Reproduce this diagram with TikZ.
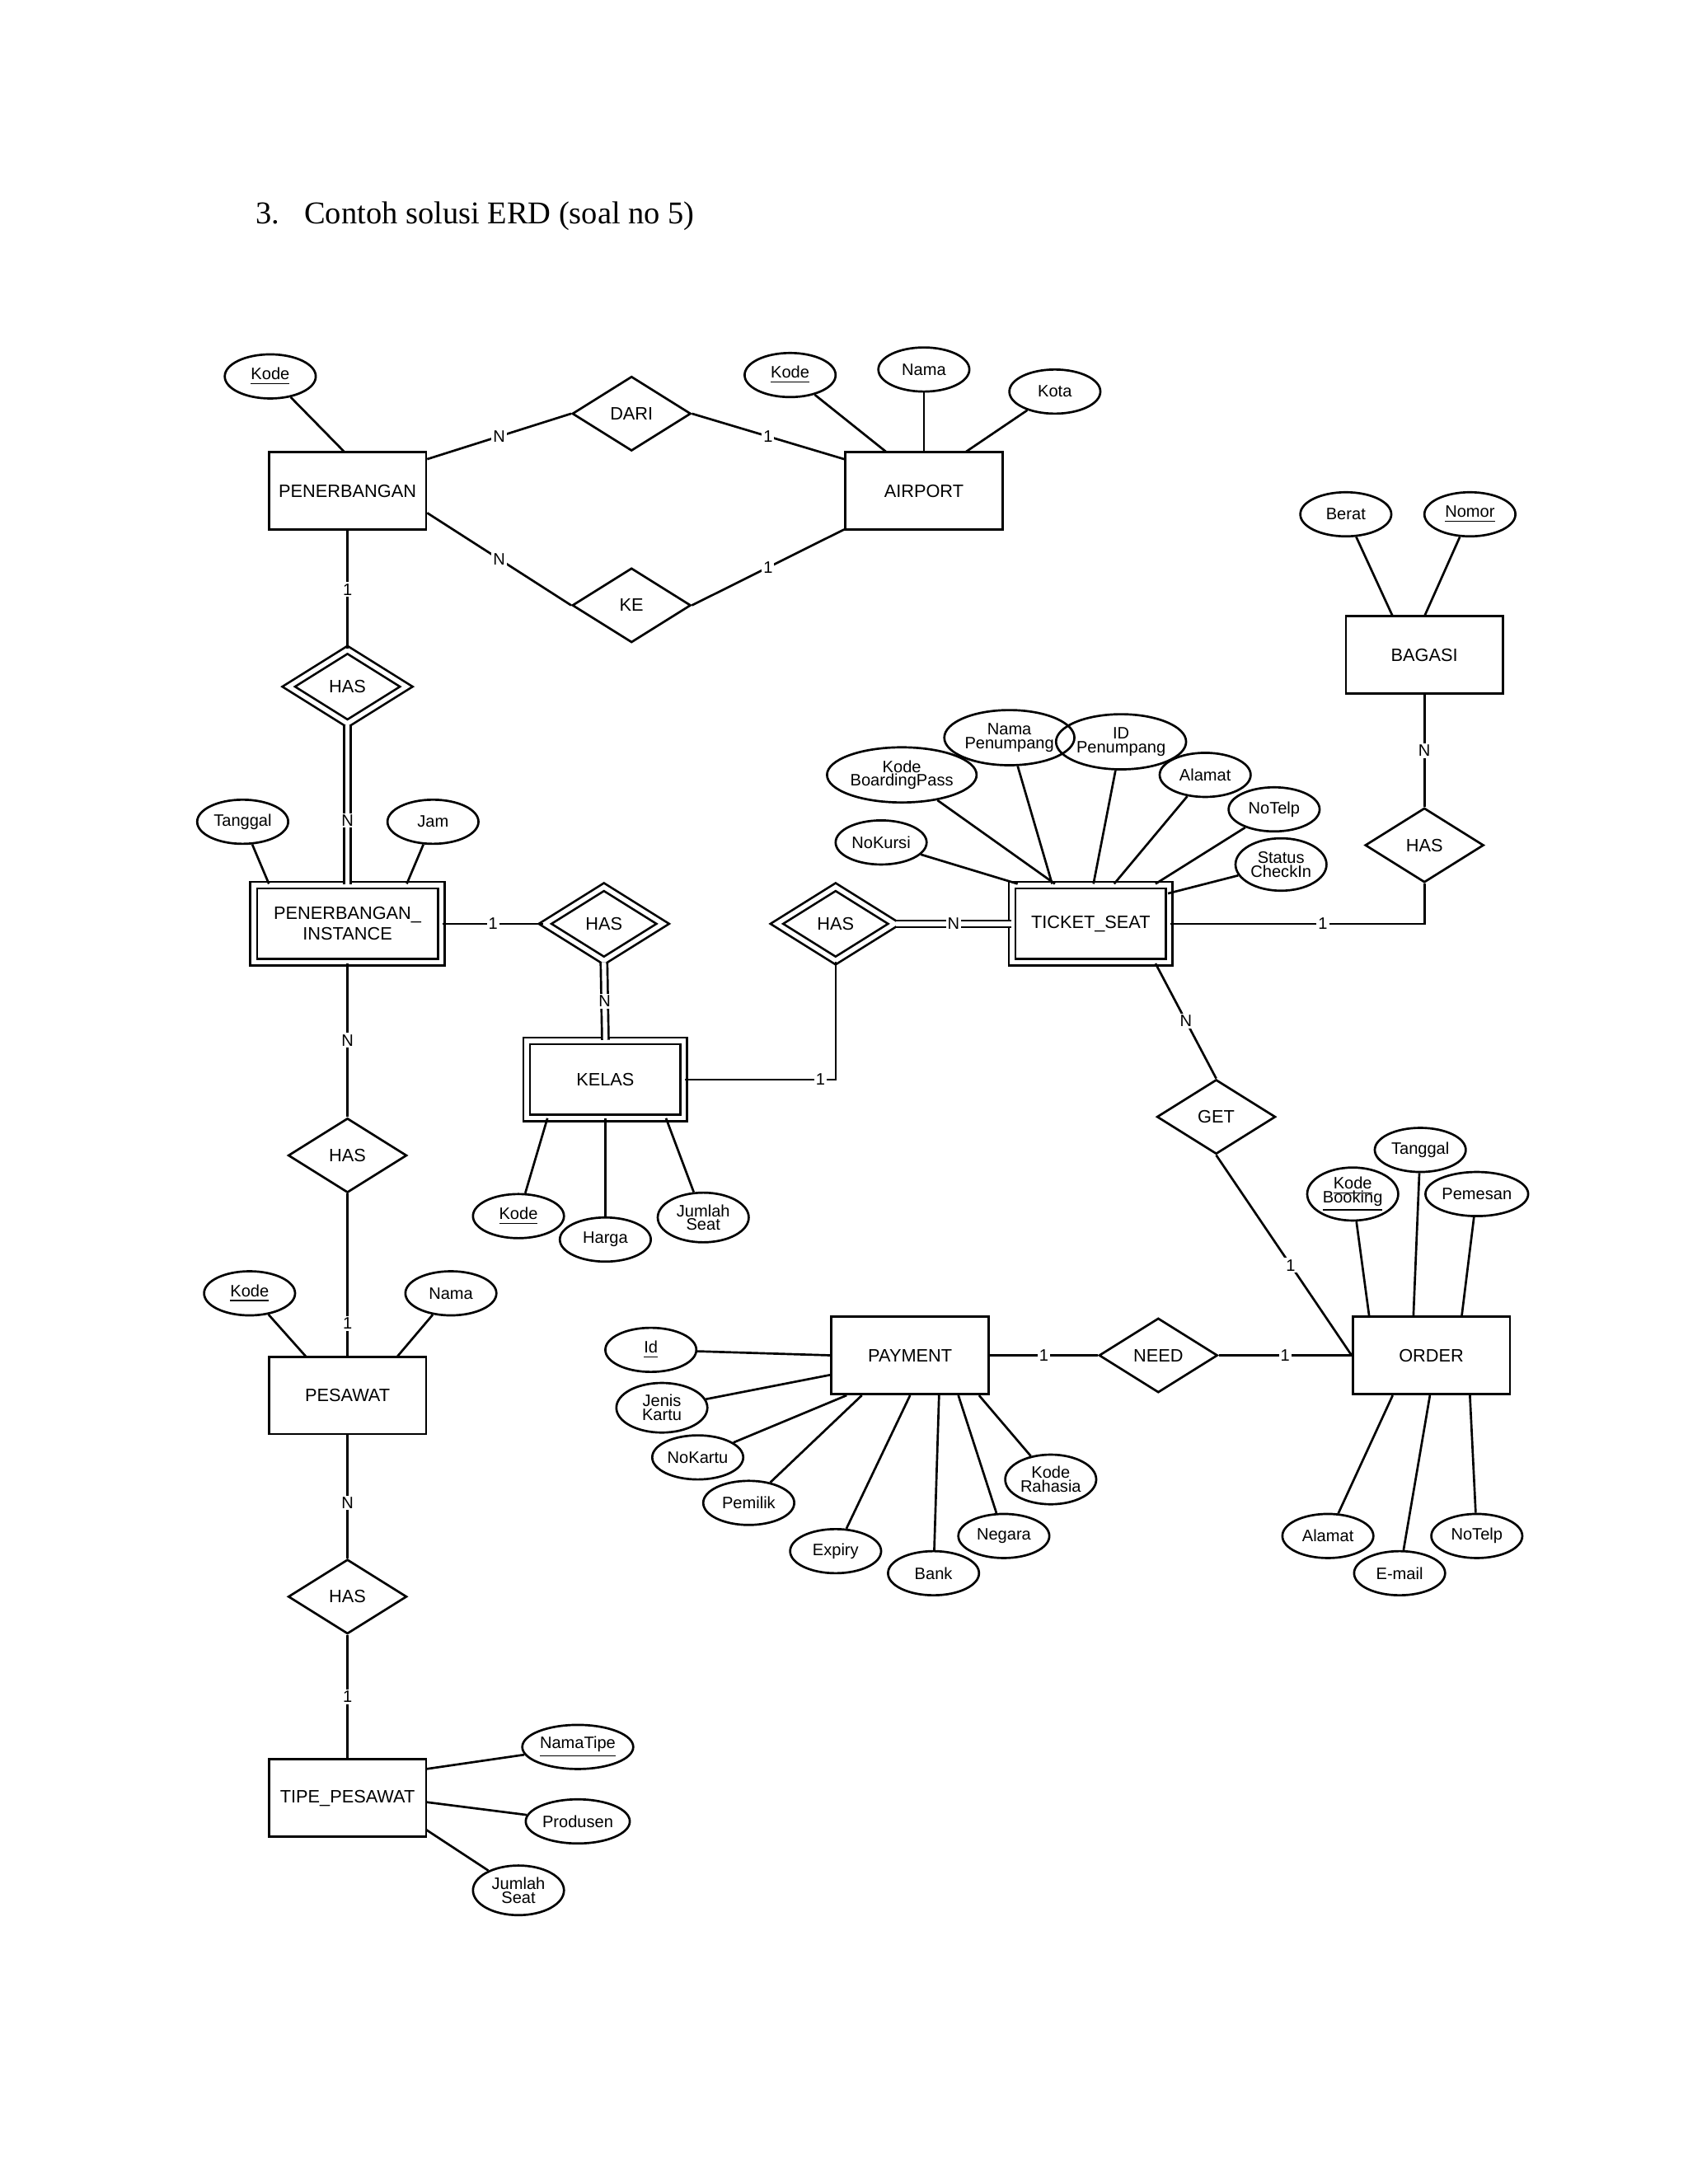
\documentclass[tikz,border=0pt]{standalone}
\usepackage{fontspec}
\setmainfont{Liberation Serif}
\newfontfamily\arialf{Liberation Sans}
\usetikzlibrary{shapes.geometric,calc}
\tikzset{
 ent/.style={draw,thick,minimum width=57pt,minimum height=28pt,inner sep=1pt,font=\arialf\fontsize{6.5}{7.5}\selectfont,align=center},
 went/.style={ent,double,double distance=1.6pt},
 rel/.style={draw,thick,diamond,minimum width=43pt,minimum height=27pt,inner sep=0pt,font=\arialf\fontsize{6.5}{7.5}\selectfont},
 wrel/.style={rel,double,double distance=1.6pt},
 att/.style={draw,thick,ellipse,minimum width=33pt,minimum height=16pt,inner sep=0.5pt,font=\arialf\fontsize{6}{6.5}\selectfont,align=center},
 lbl/.style={fill=white,inner sep=0.6pt,font=\arialf\fontsize{6}{6}\selectfont},
 dl/.style={double,double distance=1.6pt},
 every path/.style={thick}
}
\begin{document}
\begin{tikzpicture}[x=0.5pt,y=-0.5pt]
\useasboundingbox (0,0) rectangle (1224,1584);
\node[font=\fontsize{11.5}{13}\selectfont,anchor=west] (title) at (178,157) {3.\hspace{9pt}Contoh solusi ERD (soal no 5)};
% entities
\node[ent] (pb) at (252,356) {PENERBANGAN};
\node[ent] (ap) at (670,356) {AIRPORT};
\node[ent] (bg) at (1033,475) {BAGASI};
\node[went,minimum width=68pt] (pi) at (252,670) {PENERBANGAN\_\\INSTANCE};
\node[went] (ts) at (791,670) {TICKET\_SEAT};
\node[went] (kl) at (439,783) {KELAS};
\node[ent] (ps) at (252,1012) {PESAWAT};
\node[ent] (py) at (660,983) {PAYMENT};
\node[ent] (od) at (1038,983) {ORDER};
\node[ent] (tp) at (252,1304) {TIPE\_PESAWAT};
% relationships
\node[rel] (dari) at (458,300) {DARI};
\node[rel] (ke) at (458,439) {KE};
\node[wrel] (h1) at (252,498) {HAS};
\node[wrel] (h2) at (438,670) {HAS};
\node[wrel] (h3) at (606,670) {HAS};
\node[rel] (h4) at (1033,613) {HAS};
\node[rel] (get) at (882,810) {GET};
\node[rel] (h5) at (252,838) {HAS};
\node[rel] (need) at (840,983) {NEED};
\node[rel] (h6) at (252,1158) {HAS};
% relationship lines
\draw ($(pb.east)+(0,-23)$) -- node[lbl,pos=0.5]{N} (dari.west);
\draw (dari.east) -- node[lbl,pos=0.5]{1} ($(ap.west)+(0,-23)$);
\draw ($(pb.east)+(0,16)$) -- node[lbl,pos=0.5]{N} (ke.west);
\draw (ke.east) -- node[lbl,pos=0.5]{1} ($(ap.west)+(0,28)$);
\draw (pb.south) -- node[lbl]{1} (h1.north);
\draw[dl] (h1.south) -- node[lbl,pos=0.6]{N} (pi.north);
\draw (pi.east) -- node[lbl,pos=0.5]{1} (h2.west);
\draw[dl] (h2.south) -- node[lbl,pos=0.5]{N} (kl.north);
\draw (kl.east) -- node[lbl,pos=0.9]{1} (606,783) -- (h3.south);
\draw[dl] (h3.east) -- node[lbl,pos=0.5]{N} (ts.west);
\draw (ts.east) -- node[lbl,pos=0.6]{1} (1033,670) -- (h4.south);
\draw (h4.north) -- node[lbl]{N} (bg.south);
\draw ($(ts.south)+(47,0)$) -- node[lbl]{N} (get.north);
\draw (get.south west) ++(0,0) (get.south) -- node[lbl,pos=0.55]{1} (od.west);
\draw (py.east) -- node[lbl]{1} (need.west);
\draw (need.east) -- node[lbl,pos=0.5]{1} (od.west);
\draw (pi.south) -- node[lbl]{N} (h5.north);
\draw (h5.south) -- node[lbl,pos=0.8]{1} (ps.north);
\draw (ps.south) -- node[lbl,pos=0.55]{N} (h6.north);
\draw (h6.south) -- node[lbl,pos=0.5]{1} (tp.north);
% attributes
\node[att] (a1) at (196,273) {\underline{Kode}};
\node[att] (a2) at (573,272) {\underline{Kode}};
\node[att] (a3) at (670,268) {Nama};
\node[att] (a4) at (765,284) {Kota};
\node[att] (a5) at (976,373) {Berat};
\node[att] (a6) at (1066,373) {\underline{Nomor}};
\node[att] (a7) at (176,596) {Tanggal};
\node[att] (a8) at (314,596) {Jam};
\node[att,minimum width=47pt,minimum height=20pt] (a9) at (654,562) {Kode\\[-1.5pt]BoardingPass};
\node[att,minimum width=38pt,minimum height=20pt] (a10) at (732,535) {Nama\\[-1.5pt]Penumpang};
\node[att,minimum width=38pt,minimum height=20pt] (a11) at (813,538) {ID\\[-1.5pt]Penumpang};
\node[att] (a12) at (874,562) {Alamat};
\node[att] (a13) at (924,587) {NoTelp};
\node[att,minimum height=19pt] (a14) at (929,627) {Status\\[-1.5pt]CheckIn};
\node[att] (a15) at (639,611) {NoKursi};
\node[att] (a16) at (376,882) {\underline{Kode}};
\node[att] (a17) at (439,899) {Harga};
\node[att,minimum height=18pt] (a18) at (510,883) {Jumlah\\[-1.5pt]Seat};
\node[att] (a19) at (181,938) {\underline{Kode}};
\node[att] (a20) at (327,938) {Nama};
\node[att] (a21) at (1030,834) {Tanggal};
\node[att,minimum height=18pt] (a22) at (981,866) {\underline{Kode}\\[-1.5pt]\underline{Booking}};
\node[att] (a23) at (1071,866) {Pemesan};
\node[att] (a24) at (963,1114) {Alamat};
\node[att] (a25) at (1015,1141) {E-mail};
\node[att] (a26) at (1071,1114) {NoTelp};
\node[att] (a27) at (472,979) {\underline{Id}};
\node[att,minimum height=18pt] (a28) at (480,1021) {Jenis\\[-1.5pt]Kartu};
\node[att] (a29) at (506,1057) {NoKartu};
\node[att] (a30) at (543,1090) {Pemilik};
\node[att] (a31) at (606,1125) {Expiry};
\node[att] (a32) at (677,1141) {Bank};
\node[att] (a33) at (728,1114) {Negara};
\node[att,minimum height=18pt] (a34) at (762,1073) {Kode\\[-1.5pt]Rahasia};
\node[att] (a35) at (419,1267) {\underline{NamaTipe}};
\node[att] (a36) at (419,1321) {Produsen};
\node[att,minimum height=18pt] (a37) at (376,1371) {Jumlah\\[-1.5pt]Seat};
% attribute lines
\draw (a1) -- (250,328);
\draw (a2) -- (643,328);
\draw (a3) -- (670,328);
\draw (a4) -- (700,328);
\draw (a5) -- (1010,447);
\draw (a6) -- (1033,447);
\draw (a7) -- (195,641);
\draw (a8) -- (295,641);
\draw (a9) -- (765,641);
\draw (a10) -- (763,641);
\draw (a11) -- (793,641);
\draw (a12) -- (808,641);
\draw (a13) -- (838,641);
\draw (a14) -- (847,648);
\draw (a15) -- (738,641);
\draw (a16) -- (397,811);
\draw (a17) -- (439,811);
\draw (a18) -- (483,811);
\draw (a19) -- (222,984);
\draw (a20) -- (288,984);
\draw (a21) -- (1025,955);
\draw (a22) -- (993,955);
\draw (a23) -- (1060,955);
\draw (a24) -- (1010,1012);
\draw (a25) -- (1037,1012);
\draw (a26) -- (1066,1012);
\draw (a27) -- (603,983);
\draw (a28) -- (603,997);
\draw (a29) -- (614,1012);
\draw (a30) -- (625,1012);
\draw (a31) -- (660,1012);
\draw (a32) -- (681,1012);
\draw (a33) -- (695,1012);
\draw (a34) -- (710,1012);
\draw (a35) -- (309,1283);
\draw (a36) -- (309,1307);
\draw (a37) -- (309,1327);
\end{tikzpicture}
\end{document}
